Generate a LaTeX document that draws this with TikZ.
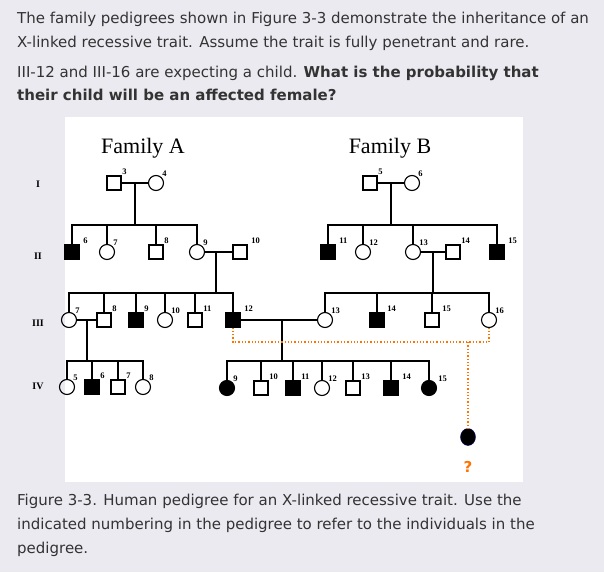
\documentclass[tikz,border=0pt]{standalone}
\usepackage{fontspec}
\usetikzlibrary{shapes.geometric}
\setmainfont{DejaVu Sans}
\newfontfamily\pedfont{Liberation Serif}
\definecolor{pagebg}{RGB}{234,234,240}
\definecolor{txtc}{RGB}{51,51,51}
\begin{document}
\begin{tikzpicture}[x=1pt,y=-1pt,
  txt/.style={anchor=base west,inner sep=0,text=txtc,font=\fontsize{15}{18}\selectfont},
  ml/.style={draw=black,line width=1.1pt},
  mal/.style={draw,line width=1.1pt,minimum size=14pt,inner sep=0,shape=rectangle},
  fem/.style={draw,line width=1.1pt,minimum size=15pt,inner sep=0,shape=circle},
  aff/.style={fill=black},
  num/.style={anchor=south west,inner sep=0.5pt,font=\pedfont\bfseries\fontsize{8.5}{9}\selectfont},
  gen/.style={font=\pedfont\bfseries\fontsize{10}{11}\selectfont},
  ttl/.style={font=\pedfont\fontsize{22}{24}\selectfont},
  orl/.style={draw=orange!90!red,line width=1.3pt,dotted}]
\fill[pagebg] (0,0) rectangle (604,572);
\useasboundingbox (0,0) rectangle (604,572);
\fill[white] (65,117) rectangle (523,482);
\node[txt] (t1) at (17,24) {The family pedigrees shown in Figure 3-3 demonstrate the inheritance of an};
\node[txt] (t2) at (17,48) {X-linked recessive trait. Assume the trait is fully penetrant and rare.};
\node[txt] (t3) at (17,78) {III-12 and III-16 are expecting a child. \textbf{What is the probability that}};
\node[txt] (t4) at (17,101) {\textbf{their child will be an affected female?}};
\node[txt] (c1) at (17,505) {Figure 3-3. Human pedigree for an X-linked recessive trait. Use the};
\node[txt] (c2) at (17,529) {indicated numbering in the pedigree to refer to the individuals in the};
\node[txt] (c3) at (17,553) {pedigree.};
\node[ttl] (fa) at (143,148) {Family A};
\node[ttl] (fb) at (390,148) {Family B};
\node[gen] (g1) at (38,184) {I};
\node[gen] (g2) at (38,256) {II};
\node[gen] (g3) at (38,323) {III};
\node[gen] (g4) at (38,386) {IV};
% Family A
\node[mal] (a13) at (114,183) {}; \node[num] at (a13.north east) {3};
\node[fem] (a14) at (156,183) {}; \node[num] at (a14.north east) {4};
\node[mal,aff] (a26) at (72,252) {}; \node[num] at ([xshift=3]a26.north east) {6};
\node[fem] (a27) at (107,252) {}; \node[num] at (a27.north east) {7};
\node[mal] (a28) at (156,252) {}; \node[num] at (a28.north east) {8};
\node[fem] (a29) at (197,252) {}; \node[num] at (a29.north east) {9};
\node[mal] (a210) at (240,252) {}; \node[num] at ([xshift=3]a210.north east) {10};
\node[fem] (a37) at (69,320) {}; \node[num] at (a37.north east) {7};
\node[mal] (a38) at (104,320) {}; \node[num] at (a38.north east) {8};
\node[mal,aff] (a39) at (136,320) {}; \node[num] at (a39.north east) {9};
\node[fem] (a310) at (165,320) {}; \node[num] at (a310.north east) {10};
\node[mal] (a311) at (195,320) {}; \node[num] at (a311.north east) {11};
\node[mal,aff] (a312) at (233,320) {}; \node[num] at ([xshift=3]a312.north east) {12};
\node[fem] (a45) at (67,387) {}; \node[num] at (a45.north east) {5};
\node[mal,aff] (a46) at (92,387) {}; \node[num] at (a46.north east) {6};
\node[mal] (a47) at (118,387) {}; \node[num] at (a47.north east) {7};
\node[fem] (a48) at (143,387) {}; \node[num] at (a48.north east) {8};
% Family B
\node[mal] (b15) at (370,183) {}; \node[num] at (b15.north east) {5};
\node[fem] (b16) at (412,183) {}; \node[num] at (b16.north east) {6};
\node[mal,aff] (b211) at (328,252) {}; \node[num] at ([xshift=3]b211.north east) {11};
\node[fem] (b212) at (363,252) {}; \node[num] at (b212.north east) {12};
\node[fem] (b213) at (413,252) {}; \node[num] at (b213.north east) {13};
\node[mal] (b214) at (453,252) {}; \node[num] at (b214.north east) {14};
\node[mal,aff] (b215) at (497,252) {}; \node[num] at ([xshift=3]b215.north east) {15};
\node[fem] (b313) at (325,320) {}; \node[num] at (b313.north east) {13};
\node[mal,aff] (b314) at (377,320) {}; \node[num] at ([xshift=2]b314.north east) {14};
\node[mal] (b315) at (432,320) {}; \node[num] at ([xshift=2]b315.north east) {15};
\node[fem] (b316) at (489,320) {}; \node[num] at (b316.north east) {16};
\node[fem,aff] (c9) at (227,388) {}; \node[num] at (c9.north east) {9};
\node[mal] (c10) at (261,388) {}; \node[num] at (c10.north east) {10};
\node[mal,aff] (c11) at (293,388) {}; \node[num] at (c11.north east) {11};
\node[fem] (c12) at (322,388) {}; \node[num] at (c12.north east) {12};
\node[mal] (c13) at (353,388) {}; \node[num] at (c13.north east) {13};
\node[mal,aff] (c14) at (391,388) {}; \node[num] at ([xshift=3]c14.north east) {14};
\node[fem,aff] (c15) at (429,388) {}; \node[num] at ([xshift=3]c15.north east) {15};
\node[draw=blue!40!black,fill=black,ellipse,minimum width=15pt,minimum height=17pt,inner sep=0] (ch) at (468,437) {};
\node[text=orange!90!red,font=\bfseries\fontsize{15}{16}\selectfont] (q) at (468,467) {?};
% connectors
\coordinate (ma1) at (135,183); \coordinate (ma2) at (216,252);
\coordinate (ma3) at (87,320); \coordinate (mb1) at (391,183);
\coordinate (mb2) at (433,252); \coordinate (mc) at (282,320);
\draw[ml] (a13) -- (a14); \draw[ml] (a29) -- (a210); \draw[ml] (a37) -- (a38);
\draw[ml] (b15) -- (b16); \draw[ml] (b213) -- (b214); \draw[ml] (a312) -- (b313);
\draw[ml] (ma1) -- (135,225); \draw[ml] (a26.north) |- (a29.north|-0,225) -- (a29.north);
\draw[ml] (a27.north) -- (a27.north|-0,225); \draw[ml] (a28.north) -- (a28.north|-0,225);
\draw[ml] (ma2) -- (216,293); \draw[ml] (a37.north) |- (233,293) -- (a312.north);
\foreach \n in {a38,a39,a310,a311} \draw[ml] (\n.north) -- (\n.north|-0,293);
\draw[ml] (ma3) -- (87,361); \draw[ml] (a45.north) |- (143,361) -- (a48.north);
\foreach \n in {a46,a47} \draw[ml] (\n.north) -- (\n.north|-0,361);
\draw[ml] (mb1) -- (391,225); \draw[ml] (b211.north) |- (497,225) -- (b215.north);
\foreach \n in {b212,b213} \draw[ml] (\n.north) -- (\n.north|-0,225);
\draw[ml] (mb2) -- (433,293); \draw[ml] (b313.north) |- (489,293) -- (b316.north);
\foreach \n in {b314,b315} \draw[ml] (\n.north) -- (\n.north|-0,293);
\draw[ml] (mc) -- (282,361); \draw[ml] (c9.north) |- (429,361) -- (c15.north);
\foreach \n in {c10,c11,c12,c13,c14} \draw[ml] (\n.north) -- (\n.north|-0,361);
\draw[orl] (a312.south) |- (489,342) -- (b316.south);
\draw[orl] (468,342) -- (ch.north);
\end{tikzpicture}
\end{document}
